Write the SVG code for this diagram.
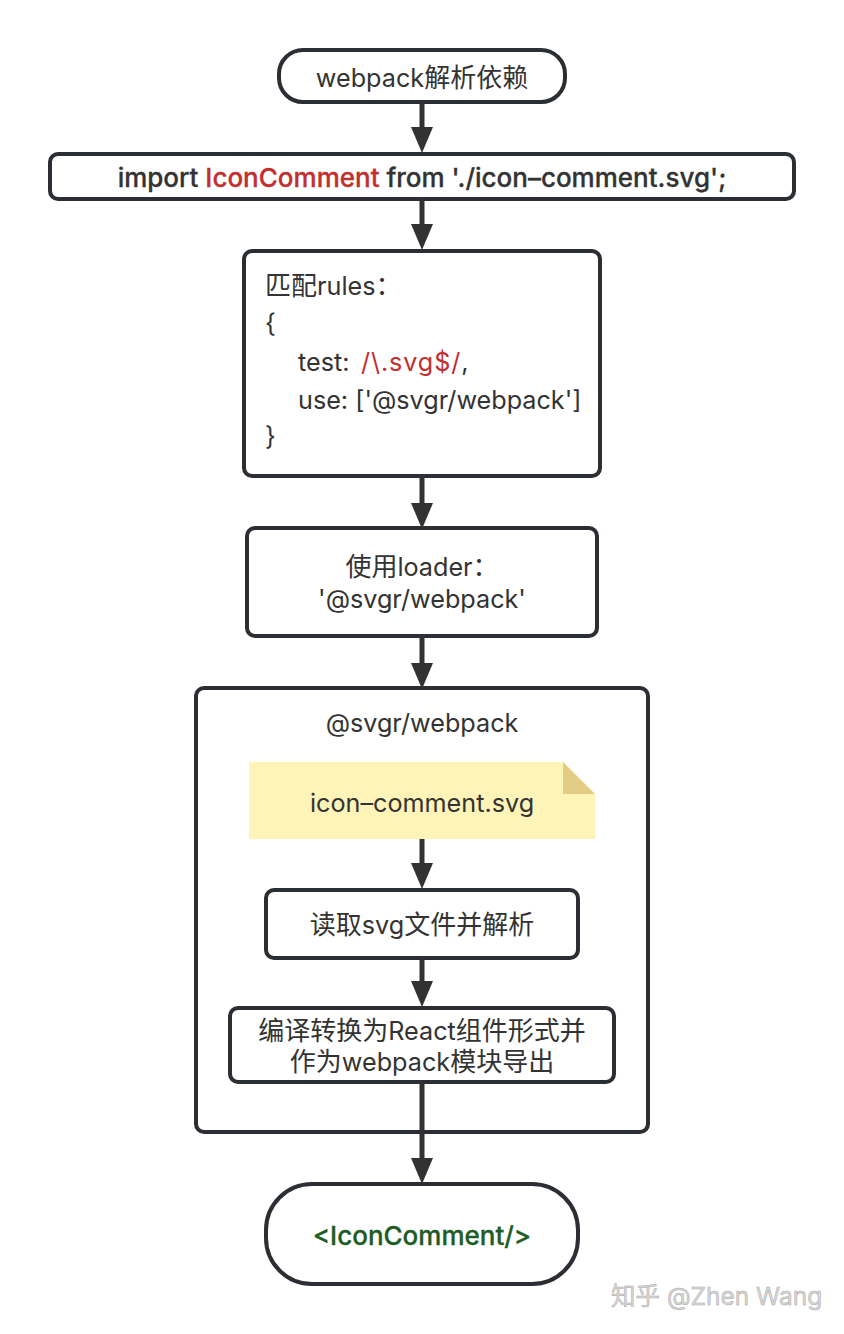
<svg xmlns="http://www.w3.org/2000/svg" width="844" height="1334" viewBox="0 0 844 1334">
<style>
.b{fill:#fff;stroke:#2b2f33;stroke-width:4}
text{font-family:"Inter","Noto Sans CJK SC",sans-serif;font-size:25.200px;fill:#333}
.z{font-size:26px;font-family:"Noto Sans CJK SC",sans-serif}
.m{text-anchor:middle}
.w{font-size:26px;font-weight:500;stroke:#333;stroke-width:.3}
.r{fill:#c22f2f}
.c{fill:none;stroke:#323232;stroke-width:5}
.a{fill:#323232}
</style>
<rect width="844" height="1334" fill="#fff"/>
<g id="n1"><rect class="b" x="279" y="50" width="286" height="52" rx="24"/><text class="m" x="422" y="87">webpack<tspan class="z">解析依赖</tspan></text></g>
<g id="n2"><rect class="b" x="50" y="154" width="744" height="45" rx="8"/><text class="m w" x="422" y="187"><tspan>import </tspan><tspan class="r" style="stroke:#c22f2f">IconComment</tspan><tspan> from './icon–comment.svg';</tspan></text></g>
<g id="n3"><rect class="b" x="244" y="251" width="356" height="225" rx="8"/>
<text x="265" y="295"><tspan class="z">匹配</tspan>rules<tspan class="z">：</tspan></text><text x="265" y="332">{</text>
<text x="298" y="371">test: <tspan class="r" x="361" style="letter-spacing:.9px">/\.svg$/</tspan>,</text>
<text x="298" y="409">use: ['@svgr/webpack']</text><text x="265" y="445">}</text></g>
<g id="n4"><rect class="b" x="247" y="528" width="350" height="108" rx="8"/><text class="m" x="422" y="576"><tspan class="z">使用</tspan>loader<tspan class="z">：</tspan></text><text class="m" x="422" y="608">'@svgr/webpack'</text></g>
<g id="n5"><rect class="b" x="196" y="688" width="452" height="444" rx="8"/><text class="m" x="422" y="732">@svgr/webpack</text></g>
<g id="n6"><polygon points="249,762 563,762 595,794 595,839 249,839" fill="#fef4b8"/><polygon points="563,762 595,794 563,794" fill="#e3cd84"/><text class="m" x="422" y="812">icon–comment.svg</text></g>
<g id="n7"><rect class="b" x="266" y="890" width="312" height="68" rx="8"/><text class="m" x="422" y="934"><tspan class="z">读取</tspan>svg<tspan class="z">文件并解析</tspan></text></g>
<g id="n8"><rect class="b" x="230" y="1008" width="384" height="74" rx="8"/><text class="m" x="422" y="1040"><tspan class="z">编译转换为</tspan>React<tspan class="z">组件形式并</tspan></text><text class="m" x="422" y="1071"><tspan class="z">作为</tspan>webpack<tspan class="z">模块导出</tspan></text></g>
<g id="n9"><rect class="b" x="266" y="1184" width="312" height="100" rx="46"/><text class="m w" x="422" y="1245" style="fill:#1d5c24;stroke:#1d5c24">&lt;IconComment/&gt;</text></g>
<g id="connectors">
<path class="c" d="M422 102V130"/><polygon class="a" points="411,127 433,127 422,153"/>
<path class="c" d="M422 199V226"/><polygon class="a" points="411,224 433,224 422,250"/>
<path class="c" d="M422 476V505"/><polygon class="a" points="411,503 433,503 422,529"/>
<path class="c" d="M422 636V665"/><polygon class="a" points="411,663 433,663 422,689"/>
<path class="c" d="M422 839V866"/><polygon class="a" points="411,863 433,863 422,889"/>
<path class="c" d="M422 958V985"/><polygon class="a" points="411,981 433,981 422,1007"/>
<path class="c" d="M422 1082V1160"/><polygon class="a" points="411,1158 433,1158 422,1184"/>
</g>
<g id="watermark"><text x="611" y="1305" style="font-size:24.500px;fill:#d8d8d8;stroke:#aaa;stroke-width:.5">知乎 @Zhen Wang</text></g>
</svg>
